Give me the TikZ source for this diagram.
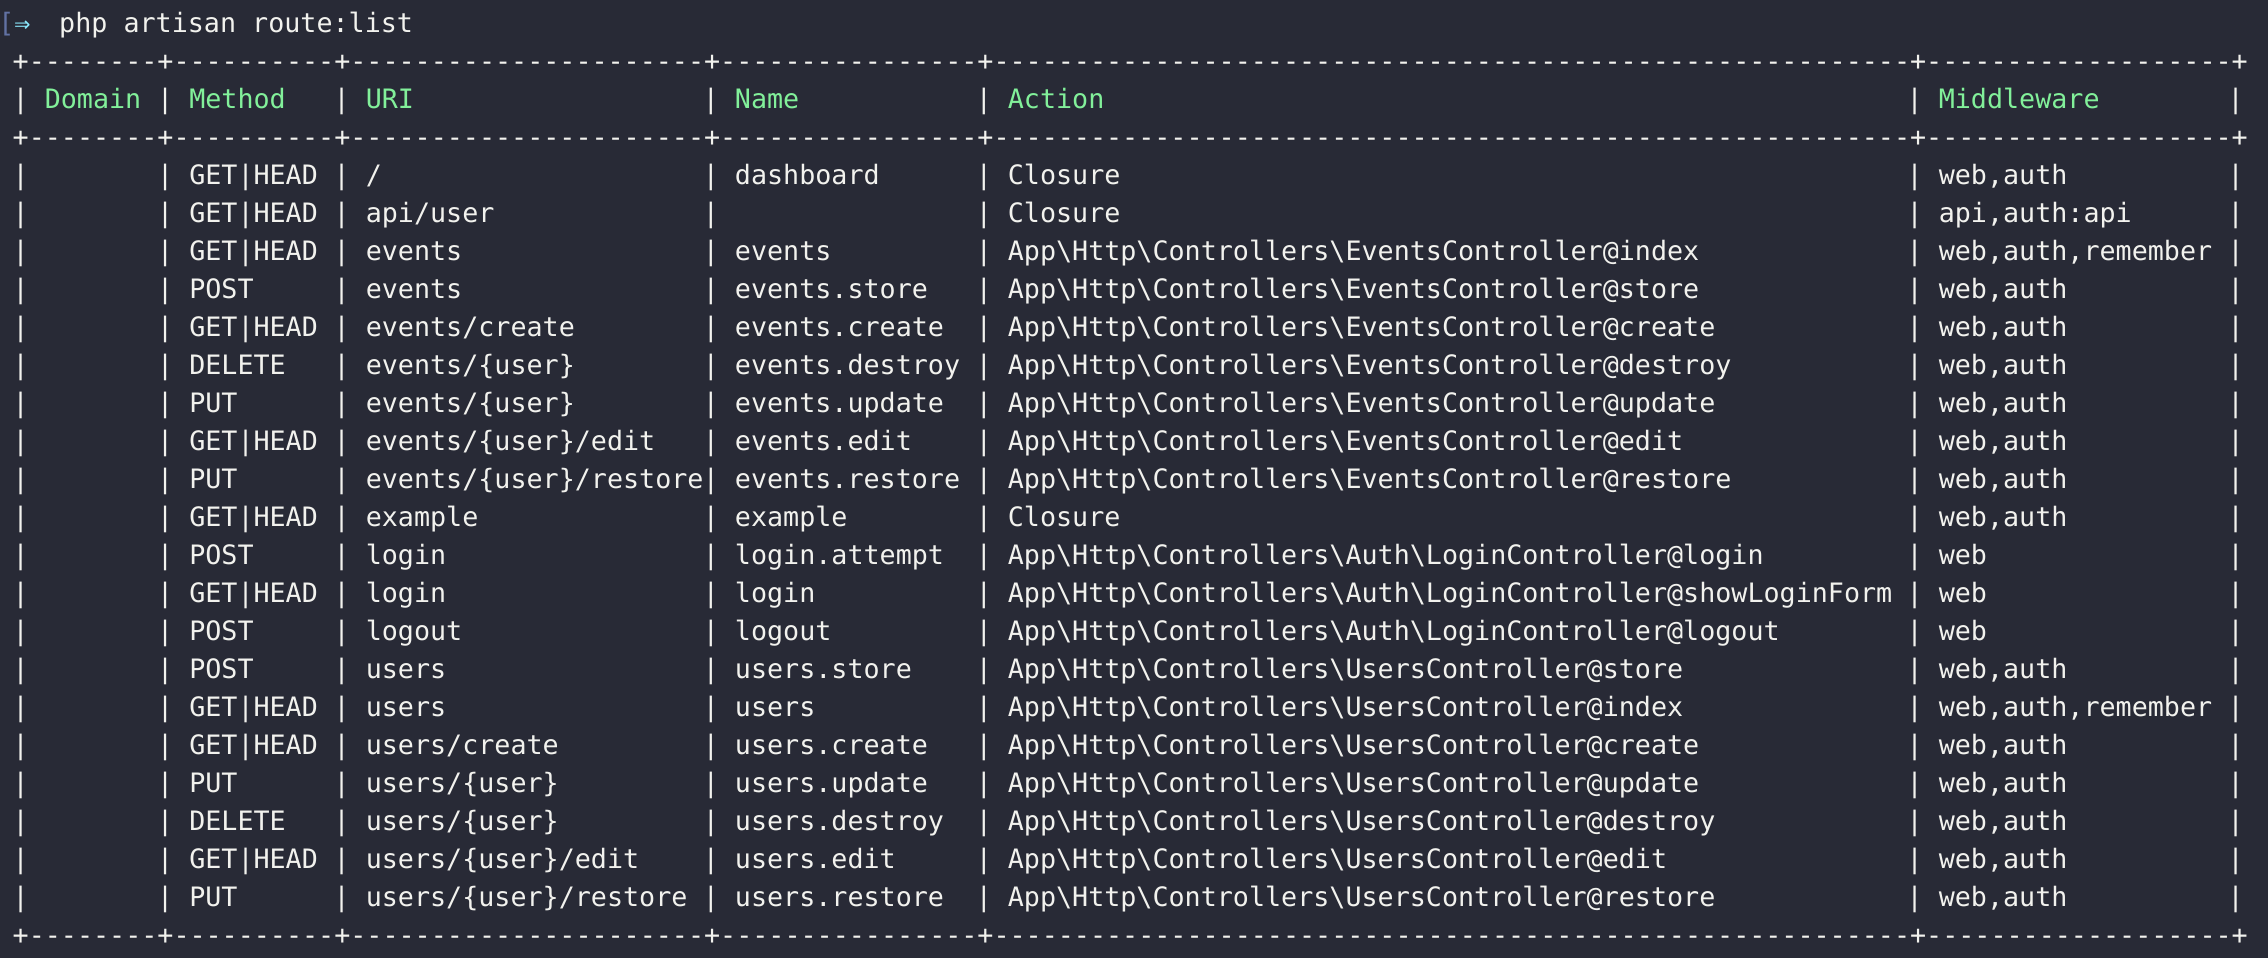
\documentclass[tikz,border=0pt]{standalone}
\usepackage{fontspec}
\setmonofont{DejaVu Sans Mono}
\usetikzlibrary{positioning}
\definecolor{termbg}{HTML}{282A36}
\definecolor{termfg}{HTML}{F2F2EE}
\definecolor{termgreen}{HTML}{82F09A}
\definecolor{termcyan}{HTML}{8BE9FD}
\definecolor{termgray}{HTML}{6272A4}
\ExplSyntaxOn
\newcommand\dashes[1]{\prg_replicate:nn{#1}{-}}
\ExplSyntaxOff
\newcommand\bs{\textbackslash}
\newcommand\ctl{App\bs{}Http\bs{}Controllers\bs{}}
\tikzset{
  cell/.style={anchor=base west, inner sep=0pt, text=termfg, font=\ttfamily\fontsize{7.6}{9}\selectfont},
  head/.style={cell, text=termgreen},
}
% one table line: pipes plus six cells
\newcommand\routerow[7]{%
  \foreach \p in {0,9,20,43,60,118,138}
    \node[cell] (p#1-\p) at (\p,#1) {|};
  \node[cell] (dom#1) at (2,#1) {};
  \node[cell] (met#1) at (11,#1) {#2};
  \node[cell] (uri#1) at (22,#1) {#3};
  \node[cell] (nam#1) at (45,#1) {#4};
  \node[cell] (act#1) at (62,#1) {#5};
  \node[cell] (mid#1) at (120,#1) {#6};
}
\newcommand\border[1]{%
  \node[cell] (b#1) at (0,#1) {+\dashes{8}+\dashes{10}+\dashes{22}+\dashes{16}+\dashes{57}+\dashes{19}+};
}
\begin{document}
\begin{tikzpicture}
  \fill[termbg] (0cm,0cm) rectangle (22.68cm,-9.58cm);
  \useasboundingbox (0cm,0cm) rectangle (22.68cm,-9.58cm);
  \begin{scope}[shift={(0.12cm,-0.325cm)}, x=0.1605cm, y=-0.38cm]
    % prompt
    \node[cell, text=termgray] (lb) at (-0.9,0) {[};
    \node[cell, text=termcyan] (arr) at (0.1,0) {⇒};
    \node[cell] (cmd) at (2.9,0) {php artisan route:list};
    % header
    \border{1}
    \foreach \p in {0,9,20,43,60,118,138}
      \node[cell] (h-\p) at (\p,2) {|};
    \node[head] (hdom) at (2,2) {Domain};
    \node[head] (hmet) at (11,2) {Method};
    \node[head] (huri) at (22,2) {URI};
    \node[head] (hnam) at (45,2) {Name};
    \node[head] (hact) at (62,2) {Action};
    \node[head] (hmid) at (120,2) {Middleware};
    \border{3}
    % routes
    \routerow{4}{GET|HEAD}{/}{dashboard}{Closure}{web,auth}{}
    \routerow{5}{GET|HEAD}{api/user}{}{Closure}{api,auth:api}{}
    \routerow{6}{GET|HEAD}{events}{events}{\ctl EventsController@index}{web,auth,remember}{}
    \routerow{7}{POST}{events}{events.store}{\ctl EventsController@store}{web,auth}{}
    \routerow{8}{GET|HEAD}{events/create}{events.create}{\ctl EventsController@create}{web,auth}{}
    \routerow{9}{DELETE}{events/\{user\}}{events.destroy}{\ctl EventsController@destroy}{web,auth}{}
    \routerow{10}{PUT}{events/\{user\}}{events.update}{\ctl EventsController@update}{web,auth}{}
    \routerow{11}{GET|HEAD}{events/\{user\}/edit}{events.edit}{\ctl EventsController@edit}{web,auth}{}
    \routerow{12}{PUT}{events/\{user\}/restore}{events.restore}{\ctl EventsController@restore}{web,auth}{}
    \routerow{13}{GET|HEAD}{example}{example}{Closure}{web,auth}{}
    \routerow{14}{POST}{login}{login.attempt}{\ctl Auth\bs{}LoginController@login}{web}{}
    \routerow{15}{GET|HEAD}{login}{login}{\ctl Auth\bs{}LoginController@showLoginForm}{web}{}
    \routerow{16}{POST}{logout}{logout}{\ctl Auth\bs{}LoginController@logout}{web}{}
    \routerow{17}{POST}{users}{users.store}{\ctl UsersController@store}{web,auth}{}
    \routerow{18}{GET|HEAD}{users}{users}{\ctl UsersController@index}{web,auth,remember}{}
    \routerow{19}{GET|HEAD}{users/create}{users.create}{\ctl UsersController@create}{web,auth}{}
    \routerow{20}{PUT}{users/\{user\}}{users.update}{\ctl UsersController@update}{web,auth}{}
    \routerow{21}{DELETE}{users/\{user\}}{users.destroy}{\ctl UsersController@destroy}{web,auth}{}
    \routerow{22}{GET|HEAD}{users/\{user\}/edit}{users.edit}{\ctl UsersController@edit}{web,auth}{}
    \routerow{23}{PUT}{users/\{user\}/restore}{users.restore}{\ctl UsersController@restore}{web,auth}{}
    \border{24}
  \end{scope}
\end{tikzpicture}
\end{document}
